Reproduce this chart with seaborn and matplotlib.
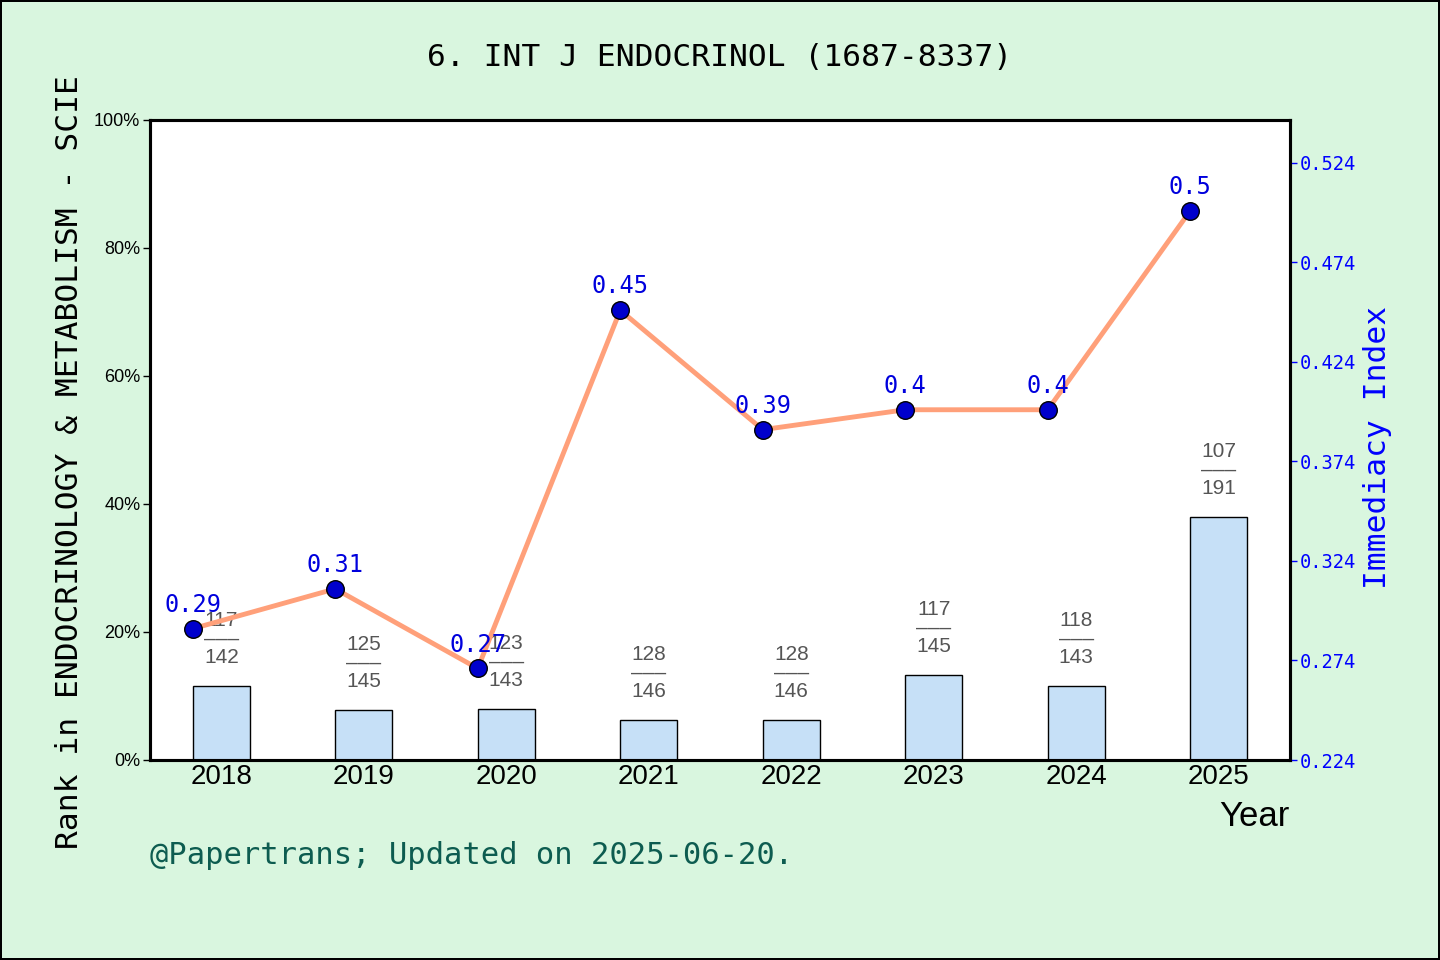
import numpy as np
import pandas as pd
import matplotlib.pyplot as plt
import seaborn as sns

# === Data ===
years = ["2018", "2019", "2020", "2021", "2022", "2023", "2024", "2025"]
rank_pct = [11.6, 7.8, 8.0, 6.25, 6.25, 13.3, 11.6, 38.0]
ranks = [117, 125, 123, 128, 128, 117, 118, 107]
totals = [142, 145, 143, 146, 146, 145, 143, 191]
immediacy = [0.29, 0.31, 0.27, 0.45, 0.39, 0.4, 0.4, 0.5]
right_ticks = [0.224, 0.274, 0.324, 0.374, 0.424, 0.474, 0.524]

BG = "#d9f6df"
MONO = "DejaVu Sans Mono"
SANS = "Liberation Sans"

sns.set_theme(style="white")
plt.rcParams["font.family"] = [SANS, "DejaVu Sans"]
plt.rcParams.update({"text.color": "black", "xtick.color": "black",
                     "ytick.color": "black", "axes.labelcolor": "black"})

df = pd.DataFrame({"year": years, "pct": rank_pct, "imm": immediacy})

fig = plt.figure(figsize=(14.4, 9.6), dpi=100, facecolor=BG)
fig.patch.set_edgecolor("black")
fig.patch.set_linewidth(1.5)
ax = fig.add_axes([150 / 1440, 1 - 760 / 960, 1140 / 1440, 640 / 960])
ax.set_facecolor("white")

# bars: rank percentage
sns.barplot(data=df, x="year", y="pct", color="#c6e0f7", edgecolor="black",
            linewidth=1, width=0.4, saturation=1, ax=ax)
ax.set_xlim(-0.5, 7.5)
ax.set_ylim(0, 100)
ax.set_yticks([0, 20, 40, 60, 80, 100])
ax.set_yticklabels([f"{v}%" for v in [0, 20, 40, 60, 80, 100]], fontsize=13)
ax.set_xticks(range(len(years)))
ax.set_xticklabels(years, fontsize=20)
ax.set_xticks(np.arange(0.5, 7, 1), minor=True)
ax.tick_params(axis="x", which="major", length=0, pad=3)
ax.tick_params(axis="x", which="minor", direction="in", length=6, width=1, color="black")
ax.tick_params(axis="y", which="major", direction="out", length=5, width=1, color="black", pad=2)
for s in ax.spines.values():
    s.set_linewidth(2.2)
    s.set_color("black")

for i, (r, t, p) in enumerate(zip(ranks, totals, rank_pct)):
    ax.text(i, p + 3, f"{r}\n–––\n{t}", ha="center", va="bottom",
            fontsize=15, color="#555555", linespacing=0.95)

ax.set_xlabel("")
ax.set_ylabel("Rank in ENDOCRINOLOGY & METABOLISM - SCIE", fontsize=22.5,
              family=MONO)
ax.yaxis.set_label_coords(-0.058, 0.466)

# line: immediacy index on the right axis
ax2 = ax.twinx()
xpos = np.arange(len(years)) - 0.2
sns.lineplot(x=xpos, y=immediacy, color="#ffa07a", linewidth=3.5, ax=ax2, zorder=2)
sns.scatterplot(x=xpos, y=immediacy, color="#0000cc", edgecolor="black",
                linewidth=1, s=160, ax=ax2, zorder=3)
ax2.set_ylim(0.224, 0.5456)
ax2.set_yticks(right_ticks)
ax2.set_yticklabels([f"{v:.3f}" for v in right_ticks], fontsize=13.5,
                    family=MONO, color="blue")
ax2.tick_params(axis="y", direction="out", length=5, width=1, color="blue", pad=2)
ax2.set_ylabel("Immediacy Index", fontsize=22.5, family=MONO, color="blue")
ax2.yaxis.set_label_coords(1.064, 0.489)
for s in ax2.spines.values():
    s.set_linewidth(2.2)
    s.set_color("black")
for x, v in zip(xpos, immediacy):
    ax2.text(x, v + 0.006, f"{v:g}", ha="center", va="bottom",
             fontsize=17, family=MONO, color="#0000dd")

fig.text(0.5, 1 - 57 / 960, "6. INT J ENDOCRINOL (1687-8337)", ha="center",
         va="center", fontsize=22.5, family=MONO, color="black")
fig.text(1290 / 1440, 1 - 817 / 960, "Year", ha="right", va="center",
         fontsize=25, color="black")
fig.text(150 / 1440, 1 - 855 / 960, "@Papertrans; Updated on 2025-06-20.",
         ha="left", va="center", fontsize=22, family=MONO, color="#0d5c50")

plt.savefig("out.png", dpi=100, facecolor=BG, edgecolor="black")
plt.close()
